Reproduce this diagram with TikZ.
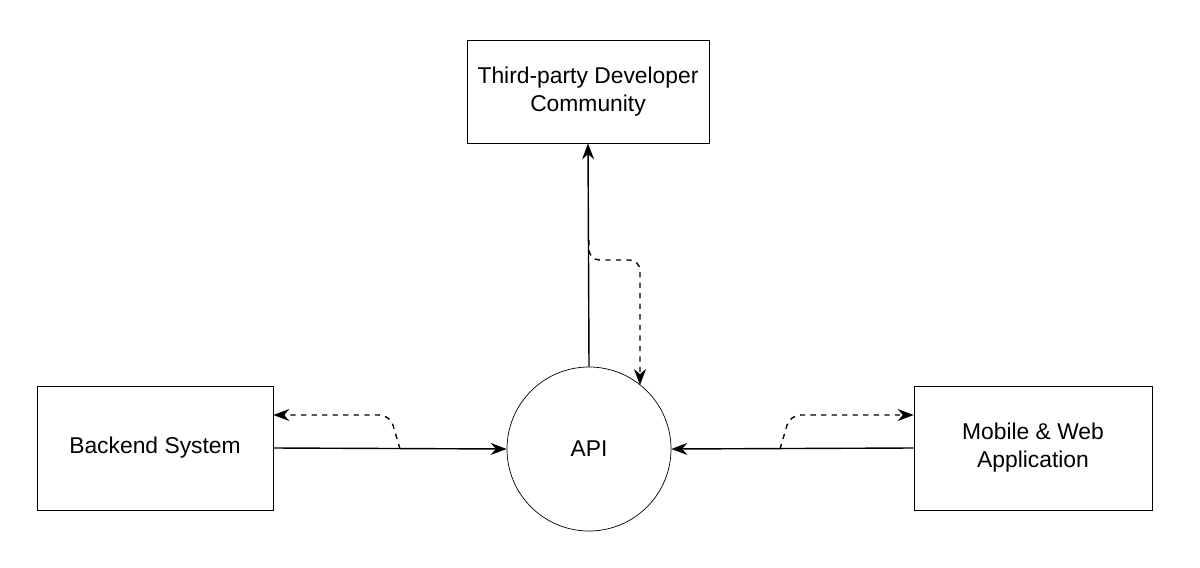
\documentclass[tikz,border=0pt]{standalone}
\usepackage{fontspec}
\setmainfont{Liberation Sans}
\usetikzlibrary{arrows.meta}
\begin{document}
\begin{tikzpicture}
\tikzstyle{box} = [rectangle,draw=black,fill=white,align=center,font=\fontsize{13}{16}\selectfont]
\tikzstyle{hub} = [circle,draw=black,fill=white,inner sep=0pt,minimum size=3.28cm,font=\fontsize{13}{16}\selectfont]
\tikzstyle{edge} = [-{Stealth[length=3.2mm,width=2.4mm]},thick]
\tikzstyle{dashedge} = [-{Stealth[length=3.2mm,width=2.4mm]},thick,dashed,rounded corners=6pt]
\useasboundingbox (0,0) rectangle (24,11.34);
\node[box,minimum width=4.84cm,minimum height=2.06cm] (dev) at (11.76,9.51) {Third-party Developer\\Community};
\node[box,minimum width=4.72cm,minimum height=2.48cm] (backend) at (3.1,2.38) {Backend System};
\node[box,minimum width=4.76cm,minimum height=2.48cm] (app) at (20.66,2.38) {Mobile \& Web\\Application};
\node[hub] (api) at (11.78,2.36) {API};
\coordinate (d1) at (11.78,6.54);
\coordinate (d2) at (12.8,3.64);
\coordinate (l1) at (8.0,2.36);
\coordinate (l2) at (7.8,3.04);
\coordinate (r1) at (15.6,2.36);
\coordinate (r2) at (15.8,3.04);

\draw[edge] (api.north)--(dev.south);
\draw[edge] (backend.east)--(api.west);
\draw[edge] (app.west)--(api.east);
\draw[dashedge] (d1) |- ([yshift=-0.4cm]d1 -| d2) -- (d2);
\draw[dashedge] (l1) -- (l2) -- (l2 -| backend.east);
\draw[dashedge] (r1) -- (r2) -- (r2 -| app.west);
\end{tikzpicture}
\end{document}
